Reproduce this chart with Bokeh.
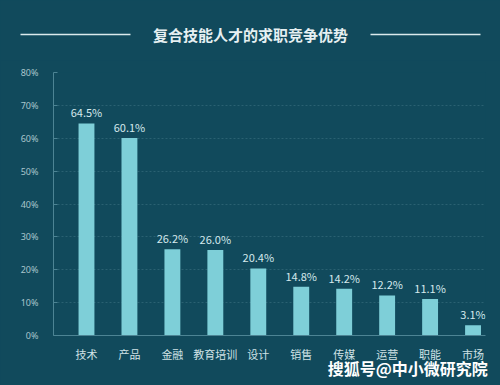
from bokeh.plotting import figure
from bokeh.models import ColumnDataSource, FixedTicker, LinearAxis
from bokeh.layouts import column
from bokeh.embed import file_html
from bokeh.resources import INLINE
from bokeh.core.properties import value

categories = ["技术", "产品", "金融", "教育培训", "设计", "销售", "传媒", "运营", "职能", "市场"]
values = [64.5, 60.1, 26.2, 26.0, 20.4, 14.8, 14.2, 12.2, 11.1, 3.1]
y_ticks = [0, 10, 20, 30, 40, 50, 60, 70, 80]
title_text = "复合技能人才的求职竞争优势"
watermark = "搜狐号@中小微研究院"

BG = "#114a5c"
BAR = "#7ecfd8"
FONT = "Noto Sans CJK SC"

# Title figure
t = figure(width=500, height=60, x_range=(0, 500), y_range=(0, 60),
           output_backend="svg", toolbar_location=None,
           min_border=0, background_fill_color=BG, border_fill_color=BG,
           outline_line_color=None)
t.frame_align = False
t.axis.visible = False
t.grid.visible = False
t.segment(x0=[20, 370], y0=[26, 26], x1=[130, 480], y1=[26, 26],
          line_color="#dbe9ec", line_width=1.5)
t.text(x=[250], y=[26], text=[title_text], text_align="center", text_baseline="middle",
       text_color="#e6f0f2", text_font_size="15px", text_font_style="bold",
       text_font=value(FONT))

# Main figure
xs = list(range(len(categories)))
src = ColumnDataSource(dict(x=xs, top=values, lab=[f"{v:.1f}%" for v in values]))
p = figure(width=500, height=325, x_range=(-0.768, 9.29), y_range=(0, 80),
           output_backend="svg", toolbar_location=None,
           min_border_left=53, min_border_right=15, min_border_top=12, min_border_bottom=50,
           background_fill_color=BG, border_fill_color=BG, outline_line_color=None)
p.frame_align = False
p.vbar(x="x", top="top", width=0.37, source=src, fill_color=BAR, line_color=None)
p.text(x="x", y="top", text="lab", source=src, text_align="center", text_baseline="bottom",
       y_offset=-3, text_color="#d5e9ec", text_font_size="11px", text_font=value(FONT))

p.yaxis.ticker = FixedTicker(ticks=y_ticks)
p.yaxis.major_label_overrides = {v: f"{v}%" for v in y_ticks}
p.yaxis.axis_line_color = "#4d8494"
p.yaxis.major_tick_line_color = "#4d8494"
p.yaxis.major_tick_in = 4
p.yaxis.major_tick_out = 0
p.yaxis.minor_tick_line_color = None
p.yaxis.major_label_text_color = "#a9c6cc"
p.yaxis.major_label_text_font_size = "9px"
p.yaxis.major_label_text_font = "Noto Sans"
p.yaxis.major_label_standoff = 15

p.xaxis.ticker = FixedTicker(ticks=xs)
p.xaxis.major_label_overrides = {i: c for i, c in enumerate(categories)}
p.xaxis.axis_line_color = "#4d8494"
p.xaxis.major_tick_line_color = None
p.xaxis.minor_tick_line_color = None
p.xaxis.major_label_text_color = "#d0e2e6"
p.xaxis.major_label_text_font_size = "11px"
p.xaxis.major_label_text_font = FONT
p.xaxis.major_label_standoff = 4

# watermark, carried by an extra label-only axis below the category axis
wm_pos = 7.48
wm_axis = LinearAxis(ticker=FixedTicker(ticks=[wm_pos]),
                     major_label_overrides={wm_pos: watermark},
                     axis_line_color=None, major_tick_line_color=None,
                     minor_tick_line_color=None, major_label_standoff=-15,
                     major_label_text_color="#ffffff", major_label_text_font=FONT,
                     major_label_text_font_size="16px", major_label_text_font_style="bold")
p.add_layout(wm_axis, "below")

p.xgrid.visible = False
p.ygrid.ticker = FixedTicker(ticks=y_ticks[1:])
p.ygrid.grid_line_color = "#3f7585"
p.ygrid.grid_line_alpha = 0.55
p.ygrid.grid_line_dash = "2 2"

layout = column(t, p, spacing=0)
html = file_html(layout, INLINE)
html = html.replace("<head>", "<head><style>body{background:#114a5c;}</style>", 1)
open("out.html", "w").write(html)
